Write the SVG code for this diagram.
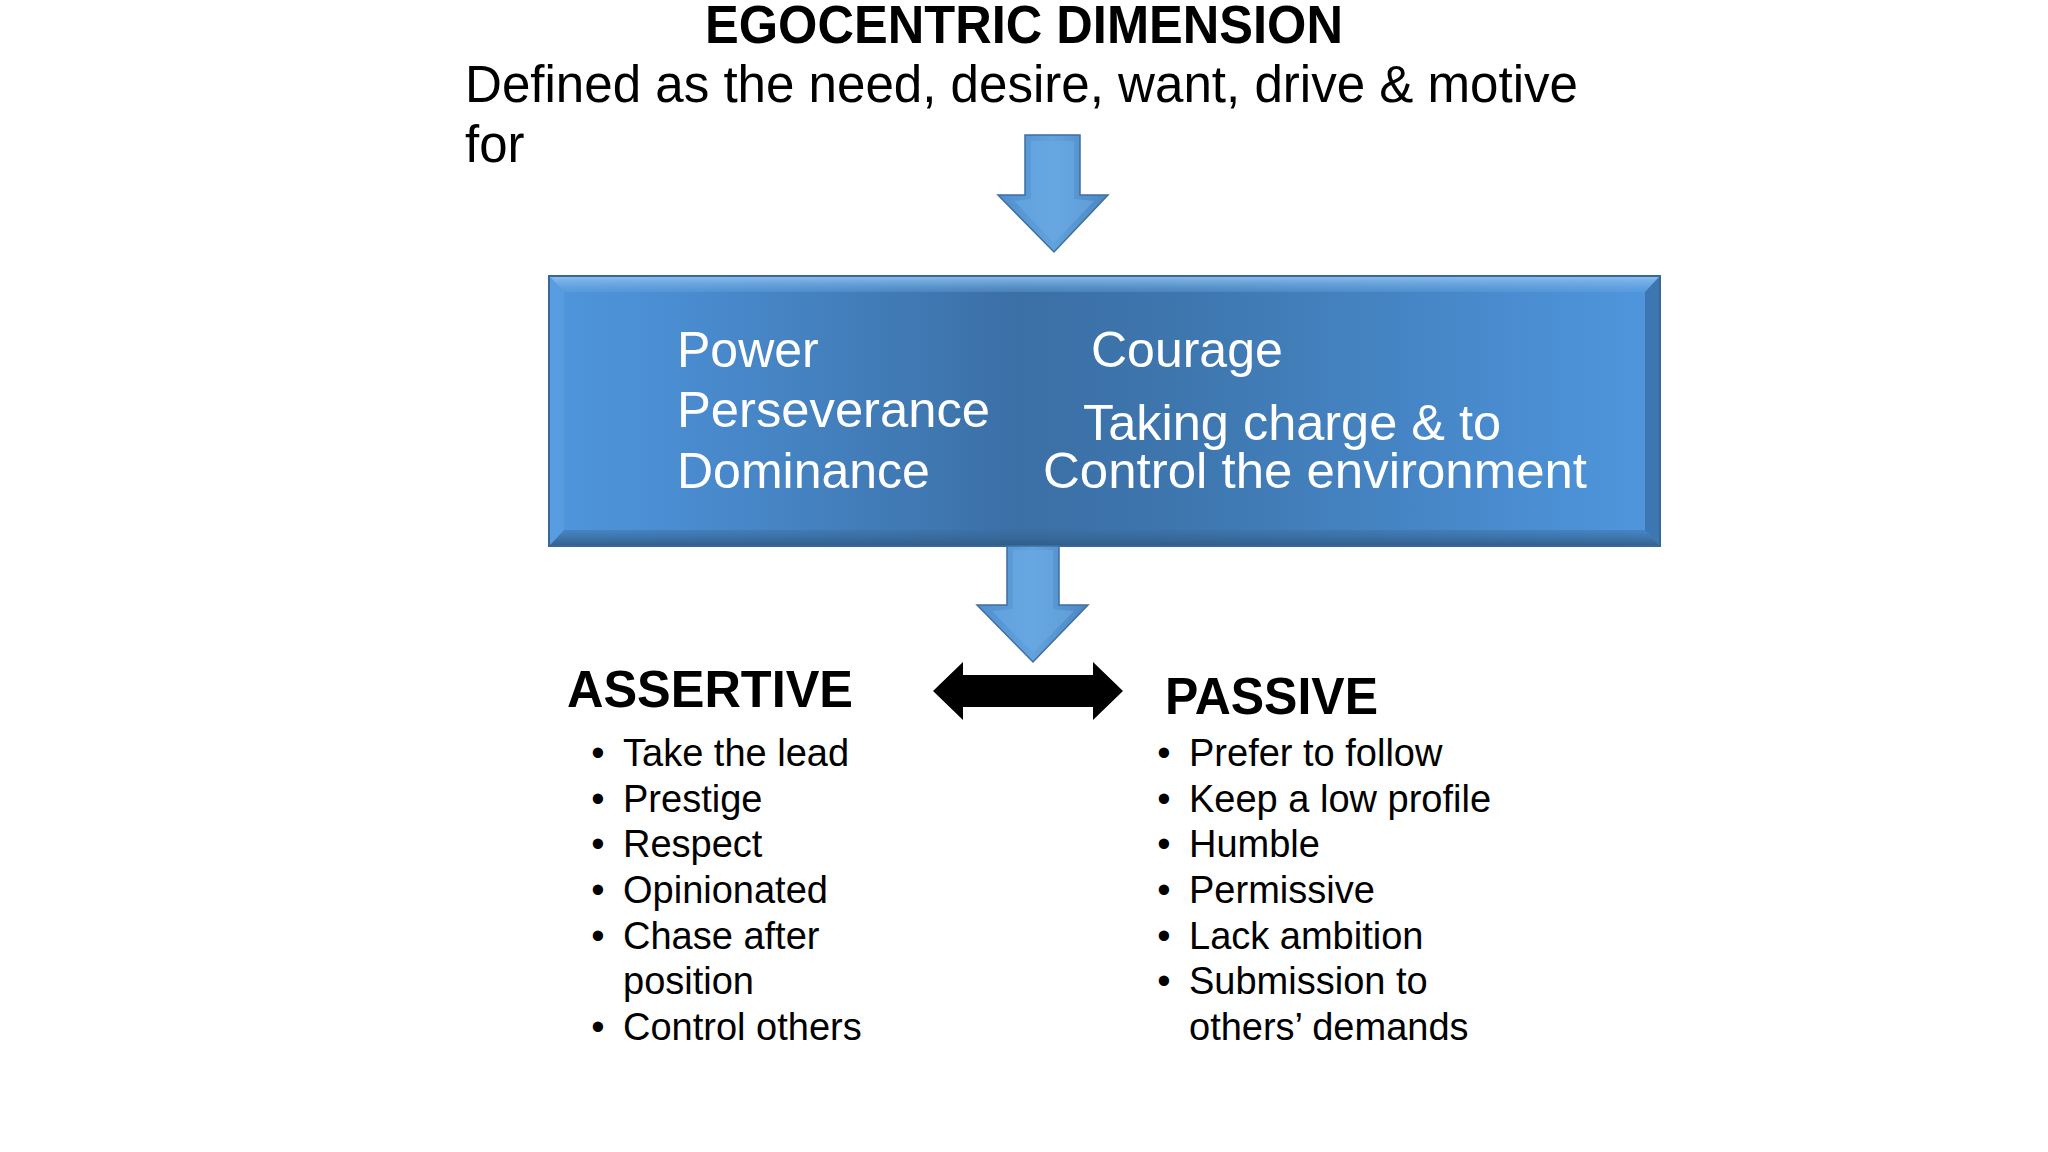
<svg xmlns="http://www.w3.org/2000/svg" width="2048" height="1152" viewBox="0 0 2048 1152">
<defs>
<style>
.t{font-family:"Liberation Sans",Arial,sans-serif;fill:#000}
.b{font-weight:bold}
.w{font-family:"Liberation Sans",Arial,sans-serif;fill:#fff;font-size:50px}
.li{font-family:"Liberation Sans",Arial,sans-serif;font-size:38px;fill:#000}
.arrow{fill:url(#arrowGrad);stroke:#3f6f9f;stroke-width:1.5}
</style>
<linearGradient id="boxGrad" x1="0" y1="0" x2="1" y2="0">
<stop offset="0" stop-color="#4f96dc"/>
<stop offset="0.12" stop-color="#4a8cd0"/>
<stop offset="0.42" stop-color="#3b70a6"/>
<stop offset="0.55" stop-color="#3d75ac"/>
<stop offset="0.8" stop-color="#4787c8"/>
<stop offset="1" stop-color="#4f97de"/>
</linearGradient>
<linearGradient id="arrowGrad" x1="0" y1="0" x2="1" y2="0">
<stop offset="0" stop-color="#4f8fcf"/>
<stop offset="0.5" stop-color="#62a2dd"/>
<stop offset="1" stop-color="#4a86c2"/>
</linearGradient>
<linearGradient id="topBevel" x1="0" y1="0" x2="0" y2="1">
<stop offset="0" stop-color="#8fc0ee" stop-opacity="0.9"/>
<stop offset="1" stop-color="#6aa8e4" stop-opacity="0.3"/>
</linearGradient>
<linearGradient id="botBevel" x1="0" y1="0" x2="0" y2="1">
<stop offset="0" stop-color="#3a6d9e" stop-opacity="0.4"/>
<stop offset="1" stop-color="#2f5c88" stop-opacity="0.9"/>
</linearGradient>
</defs>
<rect width="2048" height="1152" fill="#ffffff"/>

<g id="title">
<text class="t b" x="705" y="43" font-size="53" textLength="638" lengthAdjust="spacingAndGlyphs">EGOCENTRIC DIMENSION</text>
<text class="t" x="465" y="102" font-size="51" textLength="1113" lengthAdjust="spacingAndGlyphs">Defined as the need, desire, want, drive &amp; motive</text>
<text class="t" x="465" y="162" font-size="51">for</text>
</g>

<g id="box">
<rect x="549" y="276" width="1111" height="270" fill="url(#boxGrad)" stroke="#3a6896" stroke-width="2"/>
<polygon points="550,277 1659,277 1645,292 564,292" fill="url(#topBevel)"/>
<polygon points="550,545 1659,545 1645,530 564,530" fill="url(#botBevel)"/>
<polygon points="550,277 564,292 564,530 550,545" fill="#5fa3e4" opacity="0.5"/>
<polygon points="1659,277 1645,292 1645,530 1659,545" fill="#2f5d8a" opacity="0.55"/>
<text class="w" x="677" y="367">Power</text>
<text class="w" x="677" y="427" textLength="313" lengthAdjust="spacingAndGlyphs">Perseverance</text>
<text class="w" x="677" y="488">Dominance</text>
<text class="w" x="1091" y="367">Courage</text>
<text class="w" x="1083" y="440" textLength="418" lengthAdjust="spacingAndGlyphs">Taking charge &amp; to</text>
<text class="w" x="1043" y="488" textLength="544" lengthAdjust="spacingAndGlyphs">Control the environment</text>
</g>

<g id="assertive">
<text class="t b" x="567" y="707" font-size="52" textLength="286" lengthAdjust="spacingAndGlyphs">ASSERTIVE</text>
<g class="li">
<text x="598" y="766" text-anchor="middle">•</text><text x="623" y="766">Take the lead</text>
<text x="598" y="812" text-anchor="middle">•</text><text x="623" y="812">Prestige</text>
<text x="598" y="857" text-anchor="middle">•</text><text x="623" y="857">Respect</text>
<text x="598" y="903" text-anchor="middle">•</text><text x="623" y="903">Opinionated</text>
<text x="598" y="949" text-anchor="middle">•</text><text x="623" y="949">Chase after</text>
<text x="623" y="994">position</text>
<text x="598" y="1040" text-anchor="middle">•</text><text x="623" y="1040">Control others</text>
</g>
</g>

<g id="passive">
<text class="t b" x="1165" y="714" font-size="52" textLength="213" lengthAdjust="spacingAndGlyphs">PASSIVE</text>
<g class="li">
<text x="1164" y="766" text-anchor="middle">•</text><text x="1189" y="766">Prefer to follow</text>
<text x="1164" y="812" text-anchor="middle">•</text><text x="1189" y="812">Keep a low profile</text>
<text x="1164" y="857" text-anchor="middle">•</text><text x="1189" y="857">Humble</text>
<text x="1164" y="903" text-anchor="middle">•</text><text x="1189" y="903">Permissive</text>
<text x="1164" y="949" text-anchor="middle">•</text><text x="1189" y="949">Lack ambition</text>
<text x="1164" y="994" text-anchor="middle">•</text><text x="1189" y="994">Submission to</text>
<text x="1189" y="1040">others’ demands</text>
</g>
</g>

<g id="connectors">
<g id="arrow-top">
<polygon class="arrow" points="1025,135 1080,135 1080,195 1108,195 1054,252 998,195 1025,195"/>
<polygon points="1031,141 1074,141 1074,199 1094,201 1054,243 1014,201 1031,199" fill="#6aaae4" opacity="0.6"/>
</g>
<g id="arrow-mid">
<polygon class="arrow" points="1007,546 1059,546 1059,605 1088,605 1033,662 977,605 1007,605"/>
<polygon points="1013,550 1053,550 1053,609 1074,611 1033,653 992,611 1013,609" fill="#6aaae4" opacity="0.6"/>
</g>
<polygon id="double-arrow" points="933,691 963,662 963,675 1093,675 1093,662 1123,691 1093,720 1093,707 963,707 963,720" fill="#000"/>
</g>
</svg>
